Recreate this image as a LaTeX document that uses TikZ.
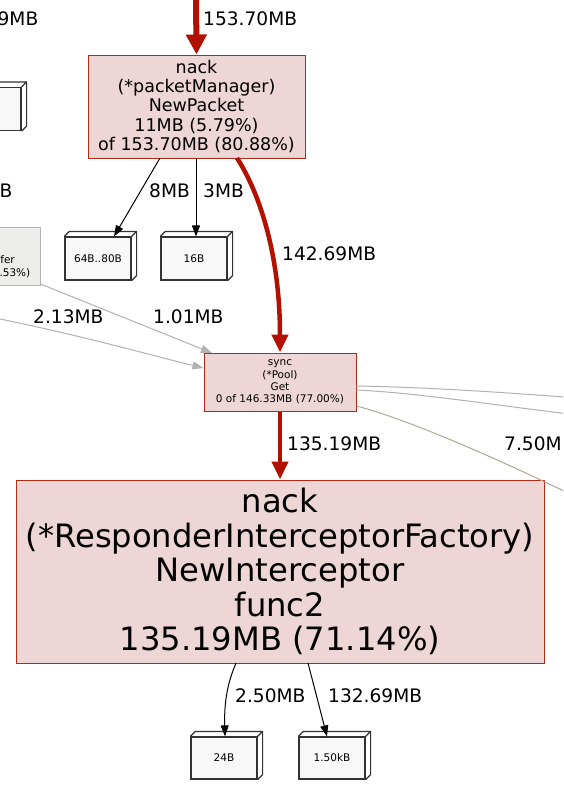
\documentclass[tikz,border=0pt]{standalone}
\usepackage{fontspec}
\setmainfont{DejaVu Sans}
\usetikzlibrary{arrows.meta,calc}
\definecolor{redE}{HTML}{B21100}
\definecolor{redB}{HTML}{B22A14}
\definecolor{redF}{HTML}{EDD6D5}
\definecolor{grayE}{HTML}{B2B2B2}
\definecolor{tanE}{HTML}{B2A795}
\definecolor{grayF}{HTML}{EDEDEC}
\definecolor{grayB}{HTML}{B2B2B0}
\definecolor{boxF}{HTML}{F8F8F8}
\tikzset{
  redbox/.style={draw=redB, fill=redF, line width=1pt, inner sep=0pt, align=center},
  graybox/.style={draw=grayB, fill=grayF, line width=1pt, inner sep=0pt},
  leafbox/.style={draw=black!80, fill=boxF, line width=1.2pt, inner sep=0pt,
     minimum width=66pt, minimum height=43pt, font=\fontsize{10.5}{12}\selectfont},
  lbl/.style={anchor=west, inner sep=0pt, font=\fontsize{18.6}{20}\selectfont},
  blk/.style={draw=black, line width=1pt, -{Triangle[length=11pt,width=8pt]}},
  thin/.style={line width=1pt, -{Triangle[length=11pt,width=8pt]}},
  thickred/.style={draw=redE, line width=#1},
}
\newcommand{\threed}[1]{%
  \draw[black!80, line width=1.2pt, line join=round]
    (#1.north west) -- ++(5,-5) -- ($(#1.north east)+(5,-5)$) -- ($(#1.south east)+(5,-5)$) -- (#1.south east)
    (#1.north east) -- ++(5,-5);}
\begin{document}
\begin{tikzpicture}[x=1pt,y=-1pt]
\useasboundingbox (0,0) rectangle (563,785);
\clip (0,0) rectangle (563,785);
\fill[white] (0,0) rectangle (563,785);

% partial nodes at the left
\node[leafbox] (lbox) at (-12,109) {};
\threed{lbox}
\node[graybox, minimum width=130pt, minimum height=58pt] (gbox) at (-25,256) {};
\node[anchor=east, inner sep=0pt, font=\fontsize{10.5}{12}\selectfont] (gt1) at (15,260) {fer};
\node[anchor=east, inner sep=0pt, font=\fontsize{10.5}{12}\selectfont] (gt2) at (30.5,273) {.53\%)};
\node[lbl, anchor=east] (l9) at (38.5,19) {9MB};
\node[lbl, anchor=east] (lB) at (12.5,191) {B};

% main nodes
\node[redbox, minimum width=217pt, minimum height=103pt,
      font=\fontsize{17.5}{19.3}\selectfont] (pm) at (196.5,106.5)
  {nack\\(*packetManager)\\NewPacket\\11MB (5.79\%)\\of 153.70MB (80.88\%)};
\node[redbox, minimum width=152pt, minimum height=58pt,
      font=\fontsize{10.5}{12.2}\selectfont] (sync) at (280,382)
  {sync\\(*Pool)\\Get\\0 of 146.33MB (77.00\%)};
\node[redbox, minimum width=528pt, minimum height=183pt,
      font=\fontsize{32.2}{34.6}\selectfont] (big) at (280,571.5)
  {nack\\(*ResponderInterceptorFactory)\\NewInterceptor\\func2\\135.19MB (71.14\%)};

\node[leafbox] (b64) at (98,258.5) {64B..80B};
\threed{b64}
\node[leafbox] (b16) at (194,258.5) {16B};
\threed{b16}
\node[leafbox, minimum height=42pt] (b24) at (224,758) {24B};
\threed{b24}
\node[leafbox, minimum height=42pt] (b150) at (332,758) {1.50kB};
\threed{b150}

% free ends
\coordinate (topin) at (196,-5);
\coordinate (lin) at (-10,317);
\coordinate (r1) at (570,397.5);
\coordinate (r2) at (570,414);
\coordinate (r3) at (570,494);

% edges
\draw[thickred=6pt, -{Triangle[length=20pt,width=20pt]}] (topin) -- (pm.north);
\node[lbl] (e1) at (203,19) {153.70MB};

\draw[blk] (160,158) -- (b64.north -| 114,0);
\draw[blk] (pm.south -| 196,0) -- (b16.north -| 196,0);
\node[lbl] (e2) at (149,191) {8MB};
\node[lbl] (e3) at (203,191) {3MB};

\draw[thickred=4.5pt, -{Triangle[length=18pt,width=16pt]}]
  (237,158) .. controls (262,197) and (280,260) .. (sync.north);
\node[lbl] (e4) at (282,254) {142.69MB};

\draw[grayE, thin] (gbox.east |- 0,284) -- (212,353);
\draw[grayE, thin] (lin) .. controls (80,335) and (150,355) .. (sync.west |- 0,368);
\node[lbl] (e5) at (33,317) {2.13MB};
\node[lbl] (e6) at (153,317) {1.01MB};

\draw[grayE, line width=1pt] (sync.east |- 0,386) .. controls (420,387) and (500,392) .. (r1);
\draw[grayE, line width=1pt] (sync.east |- 0,390) .. controls (420,393) and (500,406) .. (r2);
\draw[tanE, line width=1pt] (sync.east |- 0,406) .. controls (410,420) and (500,460) .. (r3);
\node[lbl] (e7) at (504,444) {7.50M};

\draw[thickred=4.5pt, -{Triangle[length=18pt,width=16pt]}] (sync.south) -- (big.north);
\node[lbl] (e8) at (287,444) {135.19MB};

\draw[blk] (236,663) .. controls (228,682) and (224,700) .. (b24.north -| 225,0);
\draw[blk] (308,663) -- (b150.north -| 327,0);
\node[lbl] (e9) at (235,696) {2.50MB};
\node[lbl] (e10) at (328,696) {132.69MB};
\end{tikzpicture}
\end{document}
